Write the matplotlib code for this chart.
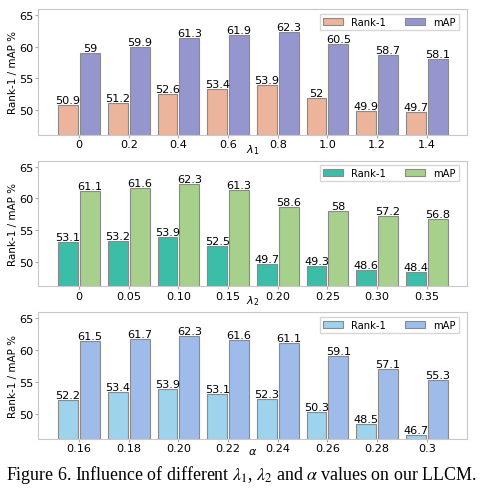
import numpy as np
import matplotlib
matplotlib.use("Agg")
import matplotlib.pyplot as plt

# lambda_1 sweep
lam1_labels = ["0", "0.2", "0.4", "0.6", "0.8", "1.0", "1.2", "1.4"]
lam1_rank1 = [50.9, 51.2, 52.6, 53.4, 53.9, 52, 49.9, 49.7]
lam1_map = [59, 59.9, 61.3, 61.9, 62.3, 60.5, 58.7, 58.1]

# lambda_2 sweep
lam2_labels = ["0", "0.05", "0.10", "0.15", "0.20", "0.25", "0.30", "0.35"]
lam2_rank1 = [53.1, 53.2, 53.9, 52.5, 49.7, 49.3, 48.6, 48.4]
lam2_map = [61.1, 61.6, 62.3, 61.3, 58.6, 58, 57.2, 56.8]

# alpha sweep
alpha_labels = ["0.16", "0.18", "0.20", "0.22", "0.24", "0.26", "0.28", "0.3"]
alpha_rank1 = [52.2, 53.4, 53.9, 53.1, 52.3, 50.3, 48.5, 46.7]
alpha_map = [61.5, 61.7, 62.3, 61.6, 61.1, 59.1, 57.1, 55.3]


def fmt(v):
    return "%g" % v


def panel(ax, labels, rank1, mAP, c_rank, c_map, xlabel):
    x = np.arange(len(labels))
    w = 0.4
    b1 = ax.bar(x - 0.22, rank1, w, color=c_rank, edgecolor="#8a8a8a",
                linewidth=0.8, label="Rank-1")
    b2 = ax.bar(x + 0.22, mAP, w, color=c_map, edgecolor="#8a8a8a",
                linewidth=0.8, label="mAP")
    for bars, vals in ((b1, rank1), (b2, mAP)):
        for b, v in zip(bars, vals):
            ax.text(b.get_x() + b.get_width() / 2, v, fmt(v),
                    ha="center", va="bottom", fontsize=8.1)
    ax.set_xticks(x)
    ax.set_xticklabels(labels)
    ax.set_yticks([50, 55, 60, 65])
    ax.tick_params(axis="both", labelsize=8.1, length=2, pad=1.2, color="#aaaaaa")
    ax.set_ylim(46.1, 65.95)
    ax.set_xlim(-0.82, 7.81)
    ax.set_xlabel(xlabel, fontsize=8.1, labelpad=-5.5)
    ax.set_ylabel("Rank-1 / mAP %", fontsize=7.5, labelpad=1)
    for s in ax.spines.values():
        s.set_color("#c8c8c8")
    ax.legend(loc="upper right", ncol=2, fontsize=7.2, handlelength=2.0,
              columnspacing=1.9, handletextpad=0.8, borderpad=0.3,
              borderaxespad=0, fancybox=False, edgecolor="#cccccc",
              bbox_to_anchor=(0.981, 0.962))


fig = plt.figure(figsize=(4.83, 4.89), dpi=100)
ax1 = fig.add_axes([0.0793, 0.7219, 0.8876, 0.2577])
ax2 = fig.add_axes([0.0793, 0.4125, 0.8876, 0.2569])
ax3 = fig.add_axes([0.0793, 0.1002, 0.8876, 0.2591])

panel(ax1, lam1_labels, lam1_rank1, lam1_map, "#ebb49b", "#9696cf", r"$\lambda_1$")
panel(ax2, lam2_labels, lam2_rank1, lam2_map, "#3cbda8", "#a8d08d", r"$\lambda_2$")
panel(ax3, alpha_labels, alpha_rank1, alpha_map, "#9dd3ec", "#9ebbea", r"$\alpha$")

fig.text(0.5, 0.028,
         r"Figure 6. Influence of different $\lambda_1$, $\lambda_2$ and $\alpha$ values on our LLCM.",
         ha="center", va="center", fontsize=12.9, family="Liberation Serif",
         math_fontfamily="stix")

fig.savefig("out.png", dpi=100)
